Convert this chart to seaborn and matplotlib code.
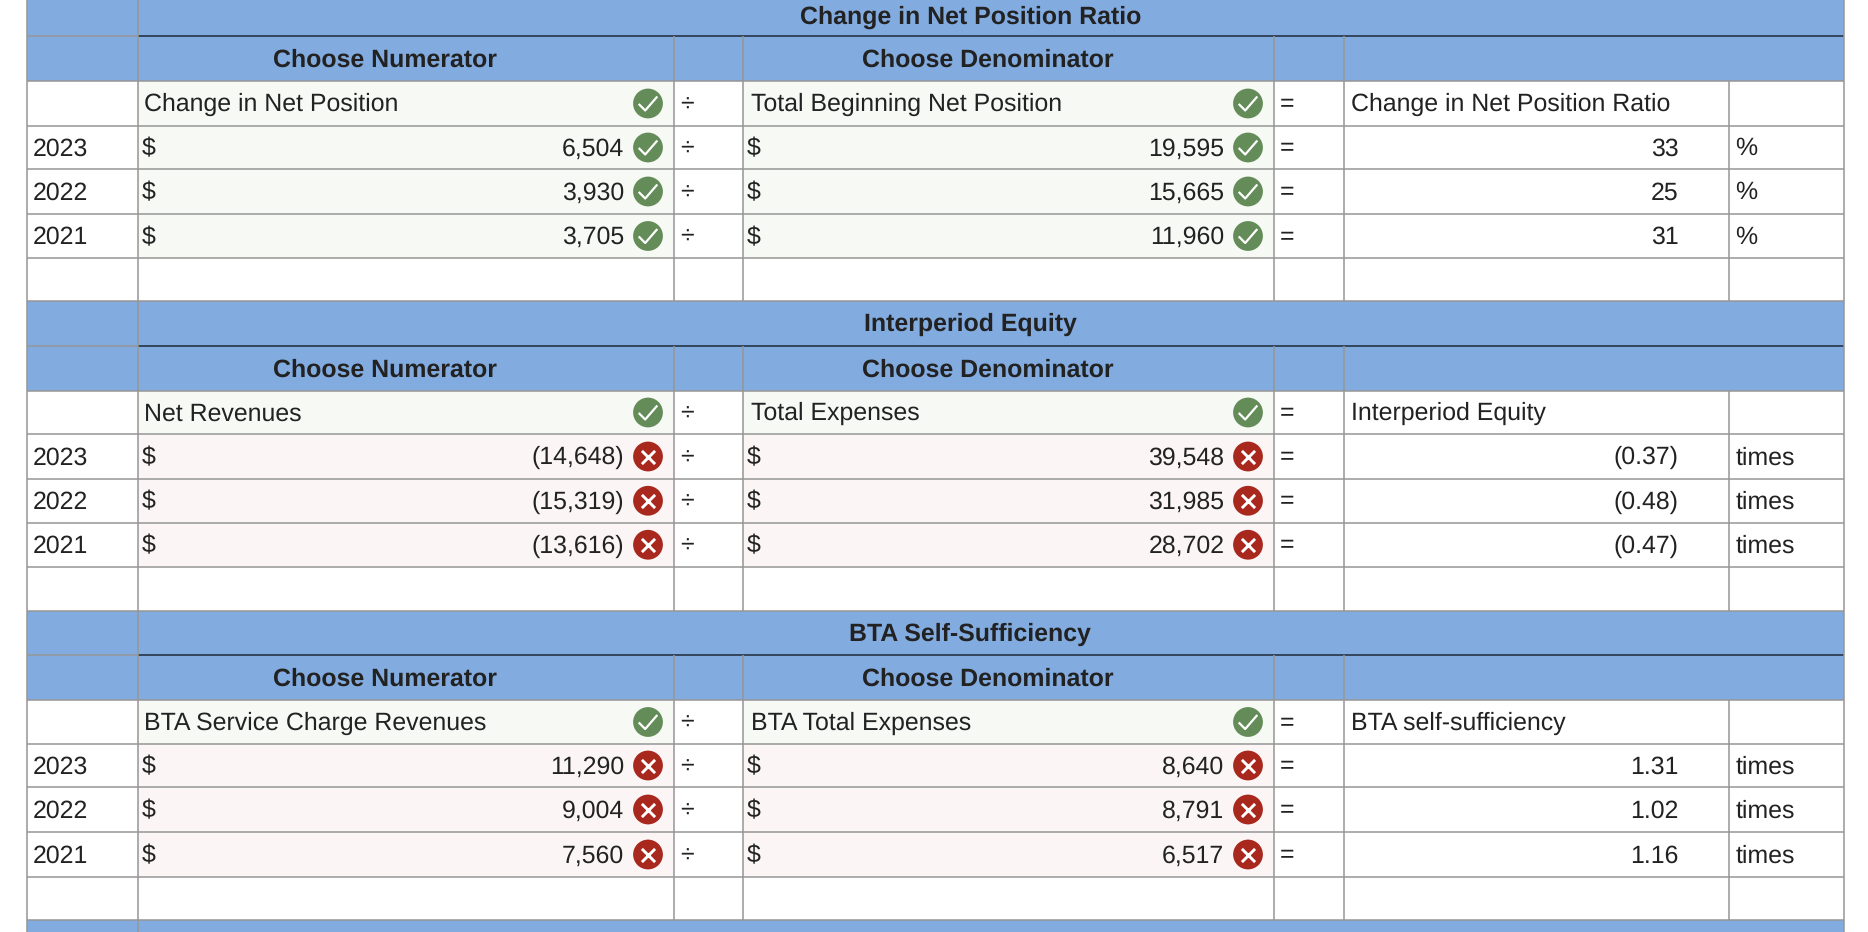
import numpy as np
import pandas as pd
import seaborn as sns
import matplotlib.pyplot as plt
from matplotlib.colors import ListedColormap
from matplotlib.path import Path

# table text / values
titles = ['Change in Net Position Ratio', 'Interperiod Equity', 'BTA Self-Sufficiency']
num_labels = ['Change in Net Position', 'Net Revenues', 'BTA Service Charge Revenues']
den_labels = ['Total Beginning Net Position', 'Total Expenses', 'BTA Total Expenses']
res_labels = ['Change in Net Position Ratio', 'Interperiod Equity', 'BTA self-sufficiency']
years = [2023, 2022, 2021]
numerators = [[6504, 3930, 3705], [-14648, -15319, -13616], [11290, 9004, 7560]]
denominators = [[19595, 15665, 11960], [39548, 31985, 28702], [8640, 8791, 6517]]
results = [['33', '25', '31'], ['(0.37)', '(0.48)', '(0.47)'], ['1.31', '1.02', '1.16']]
units = ['%', 'times', 'times']
values_ok = [True, False, False]

# cell edges in pixels (the table is cut off at top and bottom of the screenshot)
x_edges = [26.5, 137.5, 673.6, 743, 1273.6, 1344, 1728.8, 1844]
y_edges = [-4, 36, 81, 126, 169, 214, 258, 301, 346, 391, 434, 479, 522.5, 567,
           611, 655, 700, 744, 787, 832, 877, 920, 965]
x_idx = np.arange(len(x_edges))
y_idx = np.arange(len(y_edges))

BLUE = '#82abe0'
GREEN = '#f6f9f4'
RED = '#fbf5f5'
GRID = '#969696'
TEXT = '#222222'
FS = 17.95


def col_to_px(v):
    return np.interp(v, x_idx, x_edges)


def px_to_col(v):
    return np.interp(v, x_edges, x_idx)


def row_to_px(v):
    return np.interp(v, y_idx, y_edges)


def px_to_row(v):
    return np.interp(v, y_edges, y_idx)


def fmt(v):
    return f'({-v:,})' if v < 0 else f'{v:,}'


# 0 white, 1 blue, 2 green tint, 3 red tint
codes = np.zeros((len(y_edges) - 1, len(x_edges) - 1), dtype=int)
for b in range(3):
    r0 = b * 7
    codes[r0:r0 + 2, :] = 1
    codes[r0 + 2, [1, 3]] = 2
    codes[r0 + 3:r0 + 6, [1, 3]] = 2 if values_ok[b] else 3
codes[21, :] = 1

sns.set_theme(style='white')
plt.rcParams['font.family'] = ['Liberation Sans', 'DejaVu Sans']
plt.rcParams['text.hinting'] = 'none'

fig = plt.figure(figsize=(18.68, 9.32), dpi=100)
ax = fig.add_axes([26.5 / 1868, 0, (1844 - 26.5) / 1868, 1])
sns.heatmap(pd.DataFrame(codes), ax=ax, cmap=ListedColormap(['white', BLUE, GREEN, RED]),
            vmin=0, vmax=3, cbar=False, xticklabels=False, yticklabels=False)
ax.set_xscale('function', functions=(col_to_px, px_to_col))
ax.set_yscale('function', functions=(row_to_px, px_to_row))
ax.set_xlim(0, len(x_edges) - 1)
ax.set_ylim(px_to_row(932), px_to_row(0))
ax.set_xticks([])
ax.set_yticks([])
ax.minorticks_off()
ax.set_xlabel('')
ax.set_ylabel('')
for s in ax.spines.values():
    s.set_visible(False)

# grid lines
n_rows = len(y_edges) - 1
for r in range(n_rows + 1):
    dark = r in (1, 8, 15)
    ax.hlines(r, 0, 1 if dark else 7, color=GRID, lw=1.1)
    if dark:
        ax.hlines(r, 1, 7, color='#1f2a38', lw=1.1)
ax.vlines([0, 1, 7], 0, n_rows, color=GRID, lw=1.1, clip_on=False)
for b in range(3):
    r0 = b * 7
    ax.vlines([2, 3, 4, 5], r0 + 1, r0 + 7, color=GRID, lw=1.1)
    ax.vlines(6, r0 + 2, r0 + 7, color=GRID, lw=1.1)


def put(x, row, s, ha='left', weight='normal', dy=7.8):
    yc = (y_edges[row] + y_edges[row + 1]) / 2 + dy
    ax.text(px_to_col(x), px_to_row(yc), s, ha=ha, va='baseline', fontsize=FS,
            fontweight=weight, color=TEXT)


icons = []
for b in range(3):
    r0 = b * 7
    put((x_edges[1] + x_edges[7]) / 2 - 20.5, r0, titles[b], ha='center', weight='bold')
    put((x_edges[1] + x_edges[2]) / 2 - 20.5, r0 + 1, 'Choose Numerator', ha='center', weight='bold')
    put((x_edges[3] + x_edges[4]) / 2 - 20.5, r0 + 1, 'Choose Denominator', ha='center', weight='bold')

    put(x_edges[1] + 7, r0 + 2, num_labels[b])
    put(x_edges[3] + 8, r0 + 2, den_labels[b])
    put(x_edges[2] + 7, r0 + 2, '÷')
    put(x_edges[4] + 6, r0 + 2, '=')
    put(x_edges[5] + 7, r0 + 2, res_labels[b])
    for c in (2, 4):
        icons.append((px_to_col(x_edges[c] - 25.6), r0 + 2.5, 'ok'))

    for i, year in enumerate(years):
        r = r0 + 3 + i
        put(x_edges[0] + 6.5, r, str(year))
        put(x_edges[1] + 4, r, '$')
        put(x_edges[3] + 4, r, '$')
        put(x_edges[2] - 49.2, r, fmt(numerators[b][i]), ha='right')
        put(x_edges[4] - 49.2, r, fmt(denominators[b][i]), ha='right')
        put(x_edges[2] + 7, r, '÷')
        put(x_edges[4] + 6, r, '=')
        put(x_edges[6] - 50, r, results[b][i], ha='right')
        put(x_edges[6] + 6.5, r, units[b])
        status = 'ok' if values_ok[b] else 'bad'
        for c in (2, 4):
            icons.append((px_to_col(x_edges[c] - 25.6), r + 0.5, status))

icon_df = pd.DataFrame(icons, columns=['x', 'y', 'status'])
sns.scatterplot(data=icon_df, x='x', y='y', hue='status', palette={'ok': '#638c58', 'bad': '#a8281e'},
                s=460, linewidth=0, legend=False, ax=ax, zorder=3)
ax.set_xlabel('')
ax.set_ylabel('')

check = Path([(-1, -0.05), (-0.3, -0.75), (1, 0.75)], [Path.MOVETO, Path.LINETO, Path.LINETO])
ok_df = icon_df[icon_df.status == 'ok']
bad_df = icon_df[icon_df.status == 'bad']
ax.scatter(ok_df.x, ok_df.y, marker=check, s=180, facecolors='none', edgecolors='white', linewidths=1.6, zorder=4)
ax.scatter(bad_df.x, bad_df.y, marker='x', s=90, color='white', linewidths=2.1, zorder=4)

fig.savefig('out.png', dpi=100, facecolor='white')
